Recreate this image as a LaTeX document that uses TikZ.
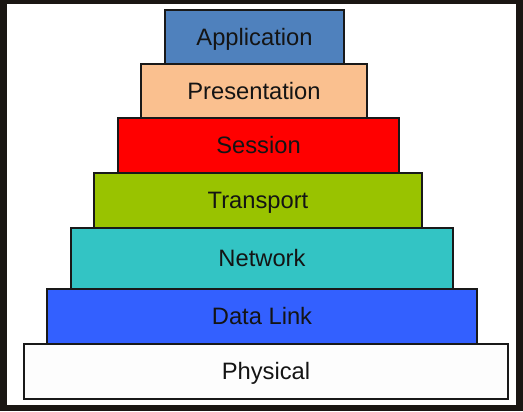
\documentclass[tikz,border=0pt]{standalone}
\usepackage{fontspec}
\setmainfont{Liberation Sans}
\definecolor{frame}{HTML}{1A1613}
\definecolor{appc}{HTML}{4F81BD}
\definecolor{presc}{HTML}{FAC08F}
\definecolor{sessc}{HTML}{FF0000}
\definecolor{transc}{HTML}{99C300}
\definecolor{netc}{HTML}{33C4C4}
\definecolor{dlc}{HTML}{3360FF}
\definecolor{physc}{HTML}{FDFDFD}
\definecolor{txt}{HTML}{141414}
\begin{document}
\begin{tikzpicture}[x=0.75pt,y=-0.75pt,
  layer/.style={draw=black!90, line width=0.9pt, rectangle, inner sep=0pt,
    text height=12.7pt, text depth=0pt,
    text=txt, font=\fontsize{17.8}{21}\selectfont}]
\fill[frame] (0,0) rectangle (523,411);
\fill[white] (7,4) rectangle (516,405);
\useasboundingbox (0,0) rectangle (523,411);
\node[layer, fill=appc,   minimum width=179*0.75pt, minimum height=54*0.75pt] (app)   at (254.5,37)   {Application};
\node[layer, fill=presc,  minimum width=226*0.75pt, minimum height=54*0.75pt] (pres)  at (254,91)     {Presentation};
\node[layer, fill=sessc,  minimum width=281*0.75pt, minimum height=55*0.75pt] (sess)  at (258.5,145.5) {Session};
\node[layer, fill=transc, minimum width=328*0.75pt, minimum height=55*0.75pt] (trans) at (258,200.5)  {Transport};
\node[layer, fill=netc,   minimum width=382*0.75pt, minimum height=61*0.75pt] (net)   at (262,258.5)  {Network};
\node[layer, fill=dlc,    minimum width=430*0.75pt, minimum height=55*0.75pt] (dl)    at (262,316.5)  {Data Link};
\node[layer, fill=physc,  minimum width=484*0.75pt, minimum height=55*0.75pt] (phys)  at (266,371.5)  {Physical};
\end{tikzpicture}
\end{document}
